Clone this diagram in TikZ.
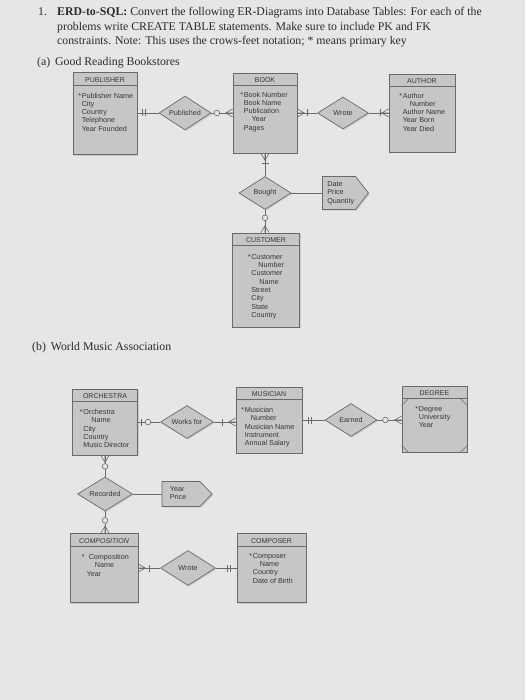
\documentclass[tikz,border=0pt]{standalone}
\usepackage{fontspec}
\setmainfont{Liberation Serif}
\newfontfamily\erfont{Liberation Sans}
\usetikzlibrary{shapes.geometric,shapes.symbols,calc,shadows}
\definecolor{bg}{HTML}{E6E6E4}
\definecolor{boxfill}{HTML}{C6C6C4}
\definecolor{boxline}{HTML}{6A6A6A}
\definecolor{ink}{HTML}{2A2A2A}
\definecolor{erink}{HTML}{363636}
\tikzset{
  shd/.style={drop shadow={opacity=0.25,shadow xshift=1.2pt,shadow yshift=-1.2pt}},
  entity/.style={draw=boxline, fill=boxfill, line width=0.8pt, inner sep=0pt, shd},
  rel/.style={diamond, draw=boxline, fill=boxfill, line width=0.7pt, inner sep=0pt, aspect=1.55,
    font=\erfont\fontsize{7.2}{8}\selectfont, text=erink, shd},
  attrbox/.style={signal, signal to=east, draw=boxline, fill=boxfill, line width=0.7pt, inner sep=0pt, shd},
  hdr/.style={font=\erfont\fontsize{7}{8}\selectfont, text=erink, inner sep=0pt},
  attr/.style={font=\erfont\fontsize{7.2}{8.3}\selectfont, text=erink, inner sep=0pt, align=left, anchor=north west},
  hline/.style={draw=boxline, line width=0.6pt},
  conn/.style={draw=boxline, line width=0.6pt},
  qtext/.style={font=\fontsize{11.8}{14.5}\selectfont, text=ink, inner sep=0pt, anchor=base west},
  crow/.pic={\draw[conn] (0,-4) -- (7,0) -- (0,4) (0,0) -- (7,0);},
  bar/.pic={\draw[conn] (#1,-3.5) -- (#1,3.5);},
  ring/.pic={\draw[conn, fill=bg] (#1,0) circle[radius=2.8pt];},
}
\begin{document}
\begin{tikzpicture}[x=1pt,y=-1pt]
\fill[bg] (0,0) rectangle (525,700);
\useasboundingbox (0,0) rectangle (525,700);

% question text
\node[qtext] (qnum) at (38,16) {1.};
\node[qtext] (q1) at (57,16) {\textbf{ERD-to-SQL:} Convert the following ER-Diagrams into Database Tables: For each of the};
\node[qtext] (q2) at (57,30.5) {problems write CREATE TABLE statements. Make sure to include PK and FK};
\node[qtext] (q3) at (57,45) {constraints. Note: This uses the crows-feet notation; * means primary key};
\node[qtext] (pa) at (37,66) {(a)\, Good Reading Bookstores};
\node[qtext] (pb) at (32,350) {(b)\, World Music Association};

% ===== (a) entities
\node[entity, minimum width=64pt, minimum height=82pt] (pub) at (105,113.5) {};
\node[entity, minimum width=64pt, minimum height=80pt] (book) at (265,113) {};
\node[entity, minimum width=66pt, minimum height=78pt] (author) at (422,113) {};
\node[entity, minimum width=67pt, minimum height=94pt] (cust) at (266,280) {};

\foreach \e/\t in {pub/PUBLISHER, book/BOOK, author/AUTHOR, cust/CUSTOMER}{
  \draw[hline] ($(\e.north west)+(0,13)$) -- ($(\e.north east)+(0,13)$);
  \node[hdr] (\e h) at ($(\e.north)+(0,7.5)$) {\t};
}
\node[attr] (puba) at ($(pub.north west)+(9,20.5)$) {\llap{*\hspace{0.6pt}}Publisher Name\\City\\Country\\Telephone\\Year Founded};
\node[attr] (booka) at ($(book.north west)+(11,19)$) {\llap{*\hspace{0.6pt}}Book Number\\Book Name\\Publication\\\hspace*{8pt}Year\\Pages};
\node[attr] (authora) at ($(author.north west)+(14,19)$) {\llap{*\hspace{0.6pt}}Author\\\hspace*{7pt}Number\\Author Name\\Year Born\\Year Died};
\node[attr] (custa) at ($(cust.north west)+(19,21.5)$) {\llap{*\hspace{0.6pt}}Customer\\\hspace*{7pt}Number\\Customer\\\hspace*{8pt}Name\\Street\\City\\State\\Country};

% relationships (a)
\node[rel, minimum width=52pt, minimum height=34pt] (published) at (185,113) {Published};
\node[rel, minimum width=51pt, minimum height=32pt] (wrotea) at (343,113) {Wrote};
\node[rel, minimum width=52pt, minimum height=33pt] (bought) at (265,193) {Bought};
\node[attrbox, minimum width=46pt, minimum height=33pt, signal pointer angle=104] (dpq) at (339,193) {};
\node[attr] (dpqt) at ($(dpq.west)+(5,-11.5)$) {Date\\Price\\Quantity};

% connectors (a)
\draw[conn] (pub.east |- published.west) -- (published.west);
\pic at (pub.east |- published.west) {bar=5};
\pic at (pub.east |- published.west) {bar=8};
\draw[conn] (published.east) -- (book.west);
\pic at (published.east) {ring=5.5};
\pic[rotate=180] at (book.west) {crow};

\draw[conn] (book.east) -- (wrotea.west);
\pic at (book.east) {crow};
\pic at (book.east) {bar=10};
\draw[conn] (wrotea.east) -- (author.west);
\pic[rotate=180] at (author.west) {bar=8};
\pic[rotate=180] at (author.west) {crow};

\draw[conn] (book.south) -- (bought.north);
\pic[rotate=-90] at (book.south) {crow};
\pic[rotate=-90] at (book.south) {bar=10};
\draw[conn] (bought.south) -- (bought.south |- cust.north);
\pic[rotate=-90] at (bought.south) {ring=8};
\pic[rotate=90] at (bought.south |- cust.north) {crow};
\draw[conn] (bought.east) -- (dpq.west);

% ===== (b) entities
\node[entity, minimum width=65pt, minimum height=66pt] (orch) at (105,422) {};
\node[entity, minimum width=66pt, minimum height=66pt] (mus) at (269,420) {};
\node[entity, minimum width=65pt, minimum height=66pt] (deg) at (434.5,419) {};
\node[entity, minimum width=68pt, minimum height=69pt] (comp) at (104,568) {};
\node[entity, minimum width=69pt, minimum height=69pt] (cmpr) at (271.5,568) {};

\foreach \e/\t in {orch/ORCHESTRA, mus/MUSICIAN, deg/DEGREE, comp/\textit{COMPOSITION}, cmpr/COMPOSER}{
  \draw[hline] ($(\e.north west)+(0,13)$) -- ($(\e.north east)+(0,13)$);
  \node[hdr] (\e h) at ($(\e.north)+(0,7.5)$) {\t};
}
% associative entity corner marks
\draw[hline] ($(deg.north west)+(0,20)$) -- ++(7,-7);
\draw[hline] ($(deg.north east)+(0,20)$) -- ++(-7,-7);
\draw[hline] ($(deg.south west)+(0,-7)$) -- ++(7,7);
\draw[hline] ($(deg.south east)+(0,-7)$) -- ++(-7,7);

\node[attr] (orcha) at ($(orch.north west)+(11,20.5)$) {\llap{*\hspace{0.6pt}}Orchestra\\\hspace*{8pt}Name\\City\\Country\\Music Director};
\node[attr] (musa) at ($(mus.north west)+(9,20.5)$) {\llap{*\hspace{0.6pt}}Musician\\\hspace*{6pt}Number\\Musician Name\\Instrument\\Annual Salary};
\node[attr] (dega) at ($(deg.north west)+(17,20.5)$) {\llap{*\hspace{0.6pt}}Degree\\University\\Year};
\node[attr] (compa) at ($(comp.north west)+(17,21)$) {\llap{*\hspace{2pt}}\hspace*{2pt}Composition\\\hspace*{8pt}Name\\Year};
\node[attr] (cmpra) at ($(cmpr.north west)+(16,20)$) {\llap{*\hspace{0.6pt}}Composer\\\hspace*{7pt}Name\\Country\\Date of Birth};

% relationships (b)
\node[rel, minimum width=53pt, minimum height=33pt] (works) at (187,422) {Works for};
\node[rel, minimum width=52pt, minimum height=33pt] (earned) at (351,420) {Earned};
\node[rel, minimum width=55pt, minimum height=34pt] (recorded) at (105,494) {Recorded};
\node[rel, minimum width=55pt, minimum height=35pt] (wroteb) at (188,568) {Wrote};
\node[attrbox, minimum width=50pt, minimum height=25pt, signal pointer angle=92] (yp) at (181,494) {};
\node[attr] (ypt) at ($(yp.west)+(8,-8)$) {Year\\Price};

% connectors (b)
\draw[conn] (orch.east) -- (works.west);
\pic at (orch.east) {bar=3};
\pic at (orch.east) {ring=10};
\draw[conn] (works.east) -- (works.east -| mus.west);
\pic[rotate=180] at (works.east -| mus.west) {bar=13};
\pic[rotate=180] at (works.east -| mus.west) {crow};

\draw[conn] (mus.east) -- (earned.west);
\pic at (mus.east) {bar=6};
\pic at (mus.east) {bar=9};
\draw[conn] (earned.east) -- (earned.east -| deg.west);
\pic at (earned.east) {ring=8};
\pic[rotate=180] at (earned.east -| deg.west) {crow};

\draw[conn] (orch.south) -- (recorded.north);
\pic[rotate=-90] at (orch.south) {crow};
\pic[rotate=-90] at (orch.south) {ring=11};
\draw[conn] (recorded.south) -- (recorded.south |- comp.north);
\pic[rotate=-90] at (recorded.south) {ring=9};
\pic[rotate=90] at (recorded.south |- comp.north) {crow};
\draw[conn] (recorded.east) -- (yp.west);

\draw[conn] (comp.east) -- (wroteb.west);
\pic at (comp.east) {crow};
\pic at (comp.east) {bar=11};
\draw[conn] (wroteb.east) -- (cmpr.west);
\pic[rotate=180] at (cmpr.west) {bar=6};
\pic[rotate=180] at (cmpr.west) {bar=9};
\end{tikzpicture}
\end{document}
